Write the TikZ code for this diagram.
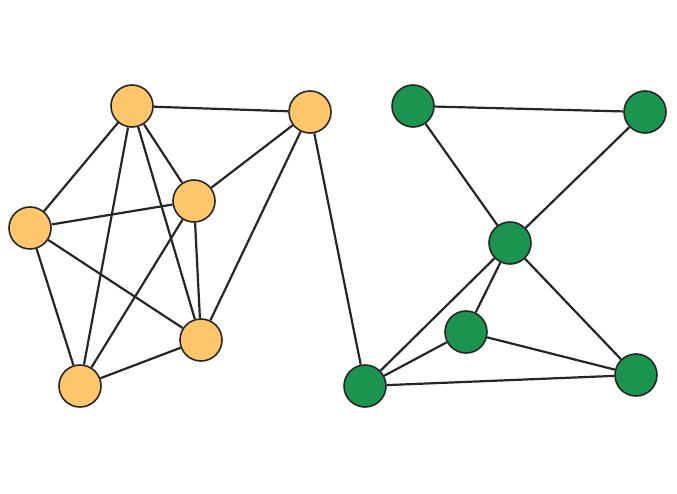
\documentclass[tikz,border=0pt]{standalone}
\begin{document}
\begin{tikzpicture}[x=1pt,y=-1pt,
  orn/.style={circle,draw=black!85,line width=1.6pt,fill={rgb,255:red,255;green,198;blue,108},minimum size=42pt,inner sep=0pt},
  grn/.style={circle,draw=black!85,line width=1.6pt,fill={rgb,255:red,26;green,148;blue,78},minimum size=42pt,inner sep=0pt},
  edge/.style={draw=black!85,line width=2.2pt}]
\useasboundingbox (0,0) rectangle (677,494);
\node[orn] (A) at (132,106) {};
\node[orn] (B) at (310,112) {};
\node[orn] (C) at (194,201) {};
\node[orn] (D) at (30,228) {};
\node[orn] (E) at (201,340) {};
\node[orn] (F) at (80,386) {};
\node[grn] (G) at (413,106) {};
\node[grn] (H) at (645,112) {};
\node[grn] (I) at (510,243) {};
\node[grn] (J) at (466,332) {};
\node[grn] (K) at (365,386) {};
\node[grn] (L) at (636,375) {};
\foreach \a/\b in {A/B,A/D,A/C,A/E,A/F,D/C,D/E,D/F,C/B,C/E,C/F,F/E,B/E,B/K,G/H,G/I,H/I,I/J,I/K,I/L,J/K,J/L,K/L}
  \draw[edge] (\a) -- (\b);
\end{tikzpicture}
\end{document}
